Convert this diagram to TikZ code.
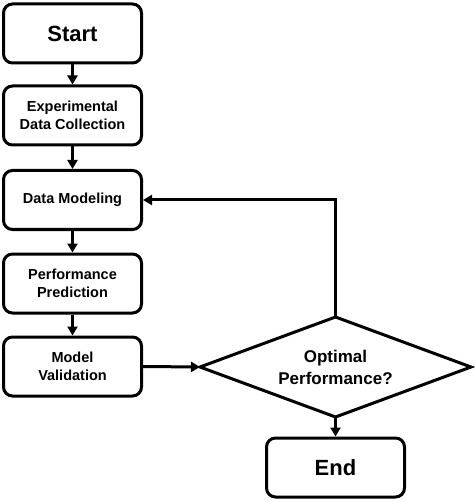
\documentclass[tikz,border=0pt]{standalone}
\usepackage{fontspec}
\setmainfont{Liberation Sans}
\usetikzlibrary{arrows.meta,shapes.geometric}
\begin{document}
\begin{tikzpicture}[x=1pt,y=-1pt,
  box/.style={draw,line width=3pt,rounded corners=9pt,minimum width=138pt,minimum height=59pt,align=center,font=\bfseries\fontsize{14.5}{18}\selectfont,inner sep=0pt},
  bigbox/.style={box,font=\bfseries\fontsize{22}{26}\selectfont},
  arr/.style={line width=3pt,-{Triangle[length=9pt,width=10pt]}}]
\useasboundingbox (0,0) rectangle (474,502);
\node[bigbox] (start) at (72.5,33.5) {Start};
\node[box] (edc) at (72.5,115.5) {Experimental\\Data Collection};
\node[box] (dm) at (72.5,200) {Data Modeling};
\node[box] (pp) at (72.5,283.5) {Performance\\Prediction};
\node[box] (mv) at (72.5,366.5) {Model\\Validation};
\coordinate (dl) at (200,367);
\coordinate (dr) at (471,367);
\coordinate (dt) at (335.5,317);
\coordinate (db) at (335.5,417);
\draw[line width=3pt,line join=miter] (dl) -- (dt) -- (dr) -- (db) -- cycle;
\node[align=center,font=\bfseries\fontsize{17}{22}\selectfont] (dec) at (335.5,367) {Optimal\\Performance?};
\node[bigbox] (end) at (335.5,467.5) {End};
\draw[arr] (start) -- (edc);
\draw[arr] (edc) -- (dm);
\draw[arr] (dm) -- (pp);
\draw[arr] (pp) -- (mv);
\draw[arr] (mv.east) -- (dl);
\draw[arr] (db) -- (end);
\draw[arr] (dt) -- (dt |- dm.east) -- (dm.east);
\end{tikzpicture}
\end{document}
